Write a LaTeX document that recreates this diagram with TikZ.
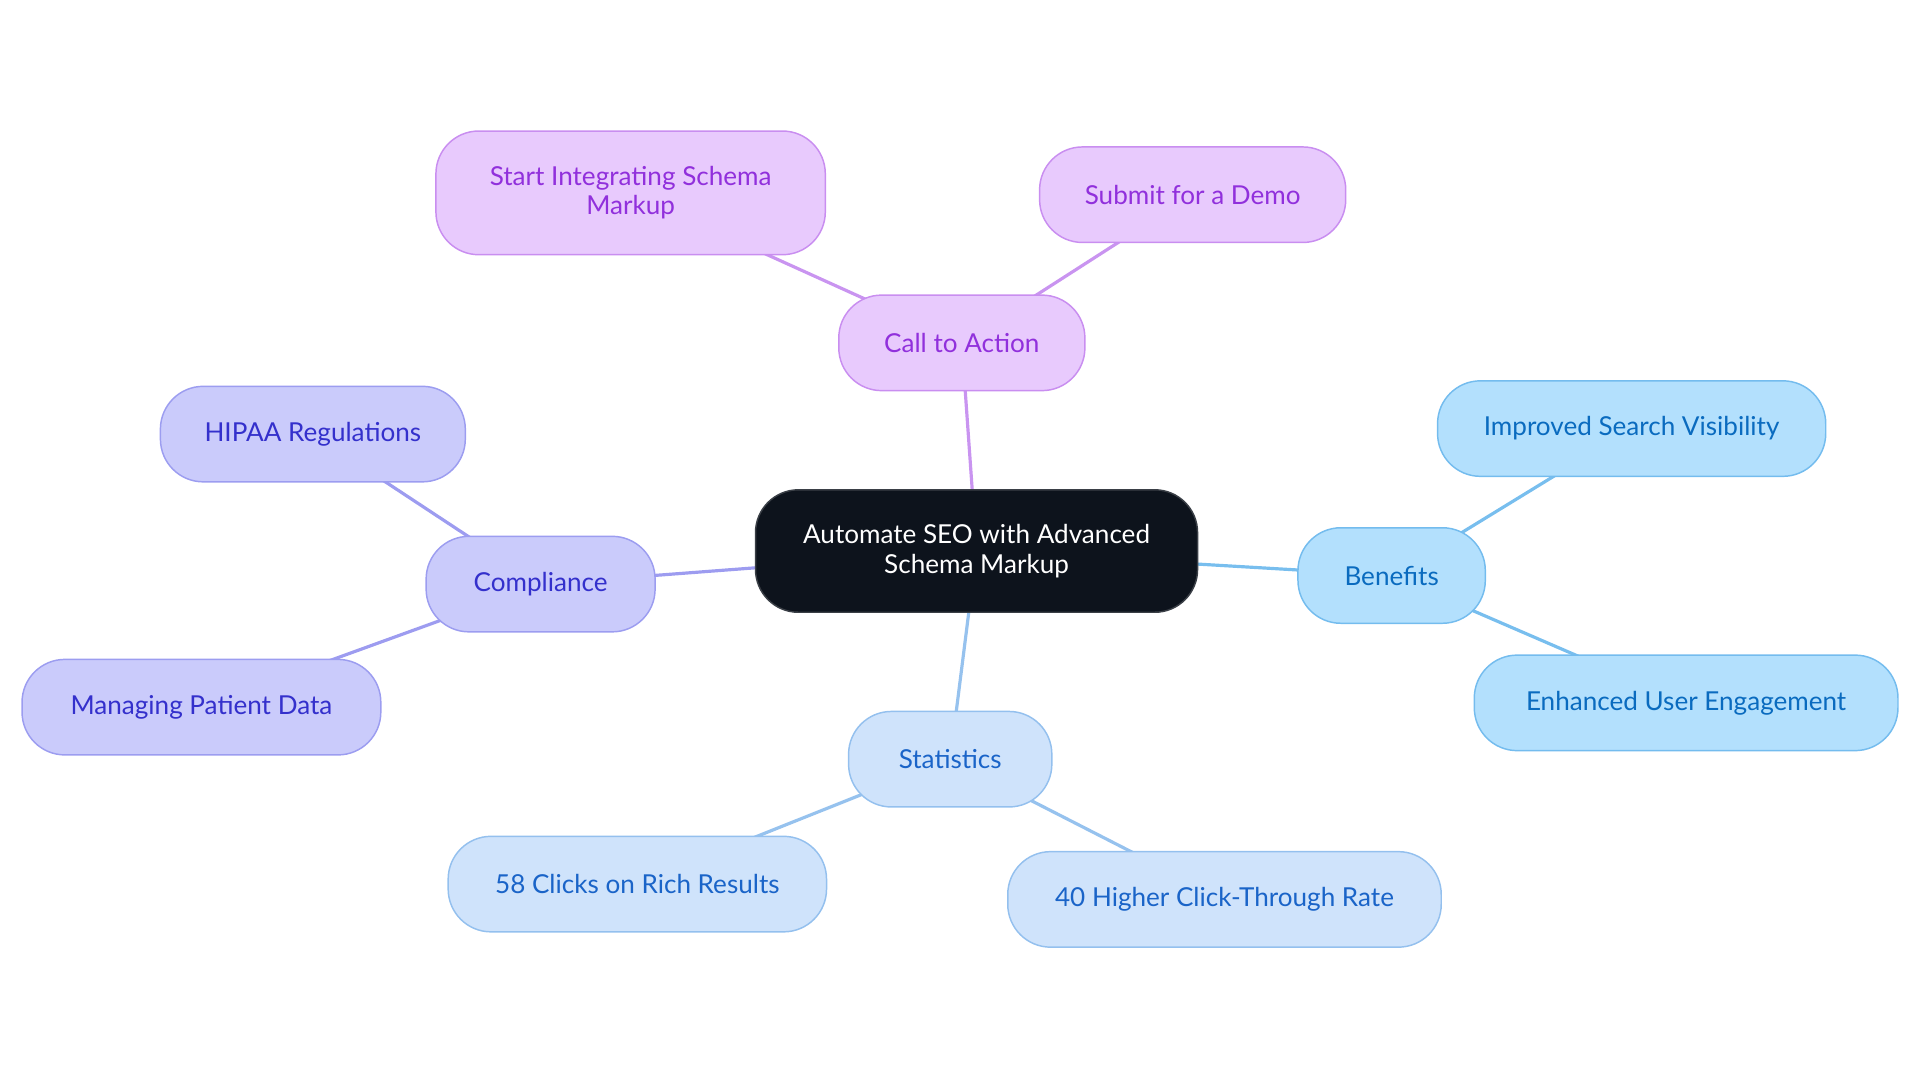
\documentclass[tikz,border=0pt]{standalone}
\usepackage{fontspec}
\setmainfont{Lato}
\usetikzlibrary{backgrounds}
\definecolor{cdark}{HTML}{0D131C}
\definecolor{cdarkb}{HTML}{3A3F46}
\definecolor{pfill}{HTML}{E8CAFD}
\definecolor{pdraw}{HTML}{C98EF0}
\definecolor{ptext}{HTML}{9130DC}
\definecolor{pline}{HTML}{C994F0}
\definecolor{vfill}{HTML}{CACBFB}
\definecolor{vdraw}{HTML}{9C9DF0}
\definecolor{vtext}{HTML}{3430CC}
\definecolor{vline}{HTML}{9D9CF0}
\definecolor{bfill}{HTML}{B3E0FD}
\definecolor{bdraw}{HTML}{74BCEE}
\definecolor{btext}{HTML}{0A6BBF}
\definecolor{bline}{HTML}{78BEEE}
\definecolor{sfill}{HTML}{CFE3FB}
\definecolor{sdraw}{HTML}{94C0EE}
\definecolor{stext}{HTML}{1A64C8}
\definecolor{sline}{HTML}{96C2EE}
\tikzset{
  x=1pt, y=-1pt,
  base/.style={rectangle, rounded corners=35pt, line width=1.2pt, align=center,
    font=\fontsize{21.3}{24}\selectfont, minimum height=78pt, inner sep=0pt},
  centernode/.style={base, fill=cdark, draw=cdarkb, text=white, minimum height=100pt},
  pnode/.style={base, fill=pfill, draw=pdraw, text=ptext},
  vnode/.style={base, fill=vfill, draw=vdraw, text=vtext},
  bnode/.style={base, fill=bfill, draw=bdraw, text=btext},
  snode/.style={base, fill=sfill, draw=sdraw, text=stext},
  edge/.style={line width=2.6pt},
}
\begin{document}
\begin{tikzpicture}
\useasboundingbox (0,0) rectangle (1568,884);
\node[centernode, minimum width=361pt] (root) at (797.5,450) {Automate SEO with Advanced\\Schema Markup};
\node[pnode, minimum width=201pt] (cta) at (785.5,280) {Call to Action};
\node[pnode, minimum width=318pt, minimum height=101pt] (start) at (515,157.5) {Start Integrating Schema\\Markup};
\node[pnode, minimum width=250pt] (demo) at (974,159) {Submit for a Demo};
\node[vnode, minimum width=187pt] (comp) at (441.5,477) {Compliance};
\node[vnode, minimum width=249pt] (hipaa) at (255.5,354.5) {HIPAA Regulations};
\node[vnode, minimum width=293pt] (patient) at (164.5,577.5) {Managing Patient Data};
\node[bnode, minimum width=153pt] (ben) at (1136.5,470) {Benefits};
\node[bnode, minimum width=317pt] (vis) at (1332.5,350) {Improved Search Visibility};
\node[bnode, minimum width=346pt] (eng) at (1377,574) {Enhanced User Engagement};
\node[snode, minimum width=166pt] (stat) at (776,620) {Statistics};
\node[snode, minimum width=309pt] (clicks) at (520.5,722) {58 Clicks on Rich Results};
\node[snode, minimum width=354pt] (ctr) at (1000,734.5) {40 Higher Click-Through Rate};
\begin{scope}[on background layer]
\draw[edge, pline] (root.center) -- (cta.center);
\draw[edge, pline] (cta.center) -- (start.center);
\draw[edge, pline] (cta.center) -- (demo.center);
\draw[edge, vline] (root.center) -- (comp.center);
\draw[edge, vline] (comp.center) -- (hipaa.center);
\draw[edge, vline] (comp.center) -- (patient.center);
\draw[edge, bline] (root.center) -- (ben.center);
\draw[edge, bline] (ben.center) -- (vis.center);
\draw[edge, bline] (ben.center) -- (eng.center);
\draw[edge, sline] (root.center) -- (stat.center);
\draw[edge, sline] (stat.center) -- (clicks.center);
\draw[edge, sline] (stat.center) -- (ctr.center);
\end{scope}
\end{tikzpicture}
\end{document}
